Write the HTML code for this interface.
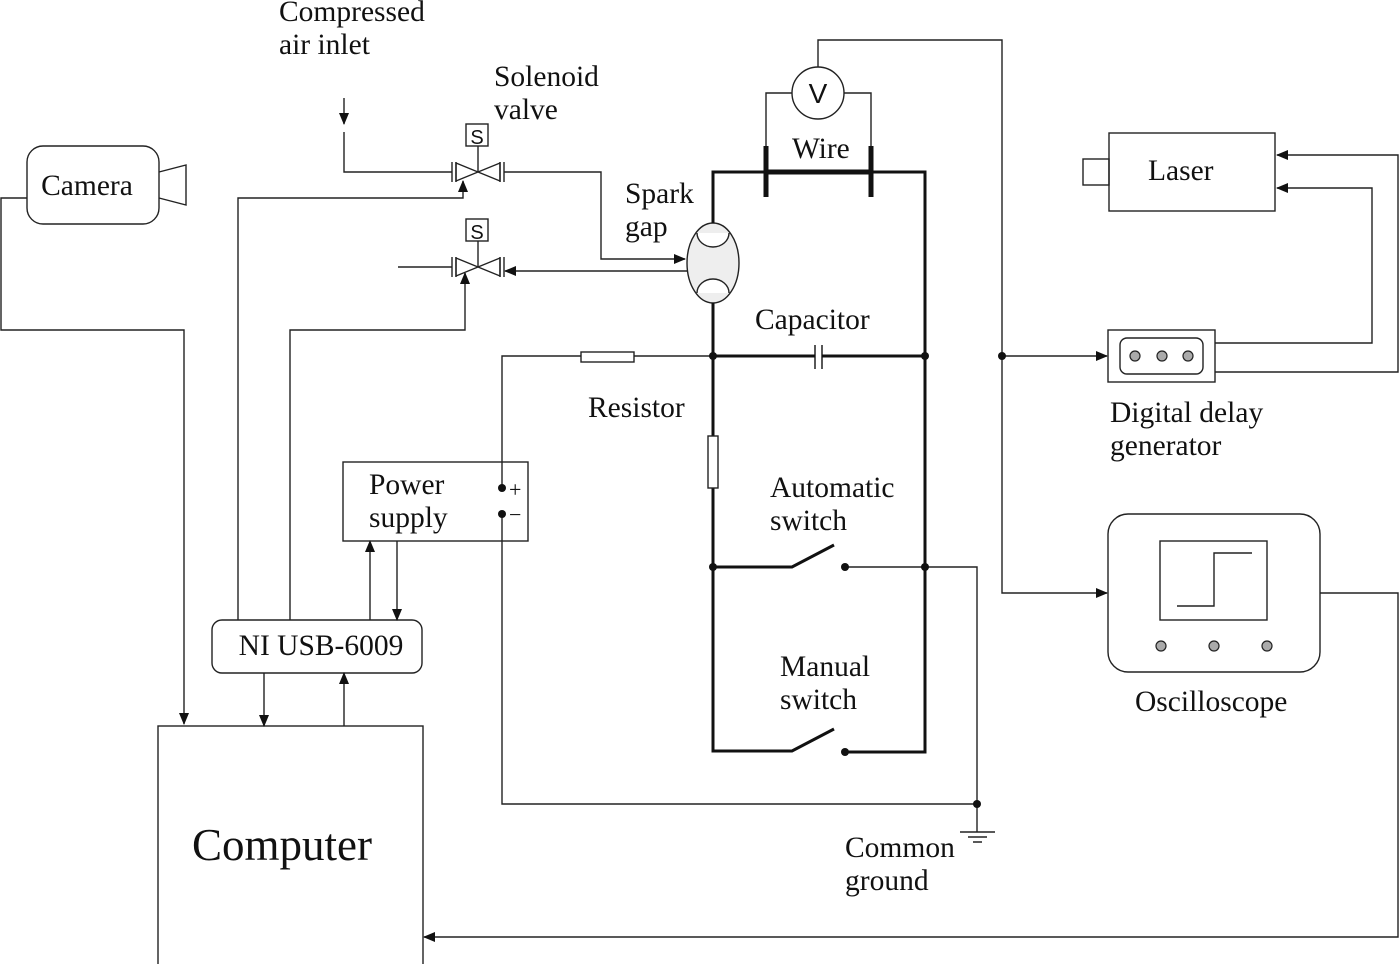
<!DOCTYPE html>
<html><head><meta charset="utf-8"><style>
html,body{margin:0;padding:0;background:#fff;}
svg{display:block;}
text{font-family:"Liberation Serif",serif;font-size:29.5px;fill:#111;}
</style></head><body>
<svg width="1400" height="964" viewBox="0 0 1400 964" xmlns="http://www.w3.org/2000/svg">
<defs>
<marker id="a" markerWidth="12" markerHeight="10" refX="11" refY="5" orient="auto" markerUnits="userSpaceOnUse"><path d="M0,0 L12,5 L0,10 Z" fill="#111"/></marker>
</defs>
<g fill="none" stroke="#222" stroke-width="1.4">
<rect x="27" y="146" width="132" height="78" rx="16" fill="#fff"/>
<path d="M159,172 L186,165 L186,205 L159,198"/>
<path d="M27,198 H1 V330 H184 V724" marker-end="url(#a)"/>
<rect x="158" y="726" width="265" height="240"/>
<rect x="212" y="620" width="210" height="53" rx="10"/>
<path d="M264,673 V726" marker-end="url(#a)"/>
<path d="M344,726 V673" marker-end="url(#a)"/>
<path d="M370,620 V541" marker-end="url(#a)"/>
<path d="M397,541 V620" marker-end="url(#a)"/>
<path d="M238,620 V198 H463 V181" marker-end="url(#a)"/>
<path d="M290,620 V330 H465 V273" marker-end="url(#a)"/>
<rect x="343" y="462" width="185" height="79"/>
<path d="M502,488 V356 H581"/>
<rect x="581" y="352" width="53" height="10"/>
<path d="M634,356 H713"/>
<path d="M502,514 V804 H977 V567 H925"/>
<path d="M977,804 V832 M960,832 H995 M968,837 H987 M973,842 H982"/>
<path d="M344,98 V124" marker-end="url(#a)"/>
<path d="M344,132 V172 H452"/>
<path d="M452,162 V182 M456,162 V182 M500,162 V182 M504,162 V182"/>
<path d="M456,163 L500,181 L500,163 L456,181 Z"/>
<path d="M478,172 V146"/>
<rect x="466" y="124" width="22" height="22"/>
<path d="M504,172 H601 V259 H685" marker-end="url(#a)"/>
<path d="M398,267 H452"/>
<path d="M452,257 V277 M456,257 V277 M500,257 V277 M504,257 V277"/>
<path d="M456,258 L500,276 L500,258 L456,276 Z"/>
<path d="M478,267 V241"/>
<rect x="466" y="219" width="22" height="22"/>
<path d="M688,271 H505" marker-end="url(#a)"/>
<ellipse cx="713" cy="263" rx="26" ry="40" fill="#eee"/>
<path d="M697,233 A16,14 0 0 0 729,233 M697,293 A16,14 0 0 1 729,293" fill="#fff"/>
<circle cx="818" cy="93" r="26"/>
<path d="M792,93 H766 V146 M844,93 H871 V146"/>
<path d="M818,67 V40 H1002 V593 H1107" marker-end="url(#a)"/>
<path d="M1002,356 H1107" marker-end="url(#a)"/>
<rect x="1109" y="133" width="166" height="78"/>
<rect x="1083" y="159" width="26" height="26"/>
<rect x="1108" y="330" width="107" height="52"/>
<rect x="1120" y="338" width="83" height="36" rx="7"/>
<path d="M1215,343 H1372 V188 H1277" marker-end="url(#a)"/>
<path d="M1215,372 H1398 V155 H1277" marker-end="url(#a)"/>
<rect x="1108" y="514" width="212" height="158" rx="20"/>
<rect x="1160" y="541" width="107" height="79"/>
<path d="M1177,606 H1214 V553 H1252"/>
<path d="M1320,593 H1398 V937 H424" marker-end="url(#a)"/>
<path d="M845,567 H925"/>
</g>
<g fill="#aaa" stroke="#222" stroke-width="1.2">
<circle cx="1135" cy="356" r="5"/><circle cx="1162" cy="356" r="5"/><circle cx="1188" cy="356" r="5"/>
<circle cx="1161" cy="646" r="5"/><circle cx="1214" cy="646" r="5"/><circle cx="1267" cy="646" r="5"/>
</g>
<g fill="none" stroke="#111" stroke-width="3">
<path d="M713,223 V172 H925 V752 H845"/>
<path d="M713,303 V751 H792 L834,729"/>
<path d="M713,567 H792 L834,545"/>
<path d="M713,356 H815 M822,356 H925"/>
<path d="M766,146 V197 M871,146 V197" stroke-width="5"/>
<path d="M766,172 H871" stroke-width="5"/>
</g>
<path d="M815,345 V369 M822,345 V369" stroke="#111" stroke-width="1.4"/>
<rect x="708" y="436" width="10" height="52" fill="#fff" stroke="#222" stroke-width="1.4"/>
<g fill="#111">
<circle cx="713" cy="356" r="4"/><circle cx="925" cy="356" r="4"/>
<circle cx="713" cy="567" r="4"/><circle cx="925" cy="567" r="4"/>
<circle cx="845" cy="567" r="4"/><circle cx="845" cy="752" r="4"/>
<circle cx="977" cy="804" r="4"/><circle cx="1002" cy="356" r="4"/>
<circle cx="502" cy="488" r="4"/><circle cx="502" cy="514" r="4"/>
</g>
<text x="87" y="195" text-anchor="middle">Camera</text>
<text x="282" y="860" text-anchor="middle" style="font-size:45px">Computer</text>
<text x="321" y="655" text-anchor="middle">NI USB-6009</text>
<text x="369" y="494">Power</text>
<text x="369" y="527">supply</text>
<text x="509" y="497" style="font-size:22px">+</text>
<text x="509" y="522" style="font-size:22px">−</text>
<text x="279" y="21">Compressed</text>
<text x="279" y="54">air inlet</text>
<text x="494" y="86">Solenoid</text>
<text x="494" y="119">valve</text>
<text x="477" y="144" text-anchor="middle" style="font-family:'Liberation Sans',sans-serif;font-size:20px">S</text>
<text x="477" y="239" text-anchor="middle" style="font-family:'Liberation Sans',sans-serif;font-size:20px">S</text>
<text x="625" y="203">Spark</text>
<text x="625" y="236">gap</text>
<text x="818" y="103" text-anchor="middle" style="font-family:'Liberation Sans',sans-serif;font-size:28px">V</text>
<text x="792" y="158">Wire</text>
<text x="755" y="329">Capacitor</text>
<text x="588" y="417">Resistor</text>
<text x="770" y="497">Automatic</text>
<text x="770" y="530">switch</text>
<text x="780" y="676">Manual</text>
<text x="780" y="709">switch</text>
<text x="845" y="857">Common</text>
<text x="845" y="890">ground</text>
<text x="1148" y="180">Laser</text>
<text x="1110" y="422">Digital delay</text>
<text x="1110" y="455">generator</text>
<text x="1135" y="711">Oscilloscope</text>
</svg>
</body></html>
